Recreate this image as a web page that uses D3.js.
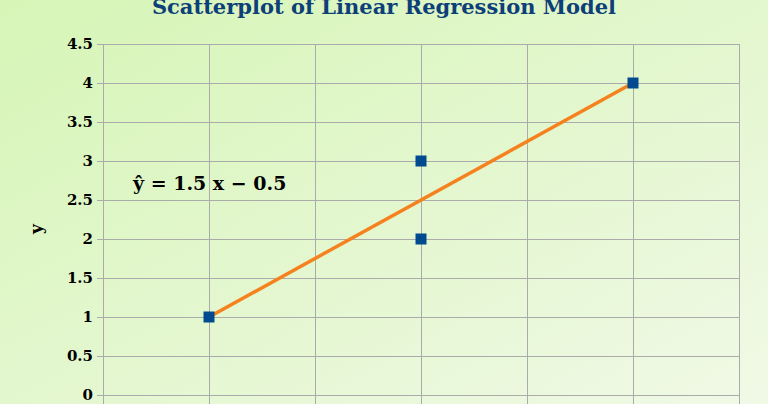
<!DOCTYPE html>
<html><head><meta charset="utf-8">
<script src="https://cdn.jsdelivr.net/npm/d3@7"></script>
<style>html,body{margin:0;padding:0;overflow:hidden;}svg{display:block;}</style>
</head><body>
<script>
const xValues = [1, 3, 3, 5];
const yValues = [1, 3, 2, 4];
const yTicks = [0, 0.5, 1, 1.5, 2, 2.5, 3, 3.5, 4, 4.5];
const xTicks = [0, 1, 2, 3, 4, 5, 6];
const fitLine = [[1, 1], [5, 4]];
const titleText = "Scatterplot of Linear Regression Model";
const equationText = "ŷ = 1.5 x − 0.5";

const W = 768, H = 404;
const svg = d3.select("body").append("svg").attr("width", W).attr("height", H);
const defs = svg.append("defs");
const g = defs.append("linearGradient").attr("id","bg").attr("x1","0").attr("y1","0").attr("x2","1").attr("y2","1");
g.append("stop").attr("offset","0").attr("stop-color","#d6f5b6");
g.append("stop").attr("offset","1").attr("stop-color","#f0f9e6");
svg.append("rect").attr("width",W).attr("height",H).attr("fill","url(#bg)");

const x = d3.scaleLinear().domain([0, 6]).range([103, 739]);
const y = d3.scaleLinear().domain([0, 4.5]).range([395, 44]);

const serif = "'DejaVu Serif', serif";

// horizontal gridlines
svg.append("g").selectAll("line").data(yTicks).join("line")
  .attr("x1", 97).attr("x2", 739)
  .attr("y1", d => Math.round(y(d)) + 0.5).attr("y2", d => Math.round(y(d)) + 0.5)
  .attr("stroke", "#ababab").attr("stroke-width", 1);
// vertical gridlines
svg.append("g").selectAll("line").data(xTicks).join("line")
  .attr("x1", d => Math.round(x(d)) + 0.5).attr("x2", d => Math.round(x(d)) + 0.5)
  .attr("y1", 44).attr("y2", 404)
  .attr("stroke", "#ababab").attr("stroke-width", 1);

// y tick labels
svg.append("g").selectAll("text").data(yTicks).join("text")
  .attr("x", 93).attr("y", d => y(d) + 5)
  .attr("text-anchor", "end")
  .attr("font-family", serif).attr("font-weight", "bold").attr("font-size", 15)
  .attr("fill", "#000")
  .text(d => d3.format("")(d));

// y axis title
svg.append("text")
  .attr("transform", "translate(42,229) rotate(-90)")
  .attr("text-anchor", "middle")
  .attr("font-family", serif).attr("font-weight", "bold").attr("font-size", 17)
  .text("y");

// title
svg.append("text")
  .attr("x", 384).attr("y", 14)
  .attr("text-anchor", "middle")
  .attr("font-family", serif)
  .attr("font-weight", "bold").attr("font-size", 21)
  .attr("fill", "#0d3f78")
  .text(titleText);

// regression line
svg.append("path")
  .datum(fitLine)
  .attr("d", d3.line().x(d => x(d[0])).y(d => y(d[1])))
  .attr("stroke", "#f5821f").attr("stroke-width", 3.5).attr("fill", "none");

// points
const pts = xValues.map((v, i) => [v, yValues[i]]);
svg.append("g").selectAll("rect").data(pts).join("rect")
  .attr("x", d => x(d[0]) - 5.5).attr("y", d => y(d[1]) - 5.5)
  .attr("width", 11).attr("height", 11)
  .attr("fill", "#004a8f");

// equation
svg.append("text")
  .attr("x", 133).attr("y", 190)
  .attr("font-family", serif).attr("font-weight", "bold").attr("font-size", 19)
  .attr("fill", "#000")
  .text(equationText);
</script>
</body></html>
